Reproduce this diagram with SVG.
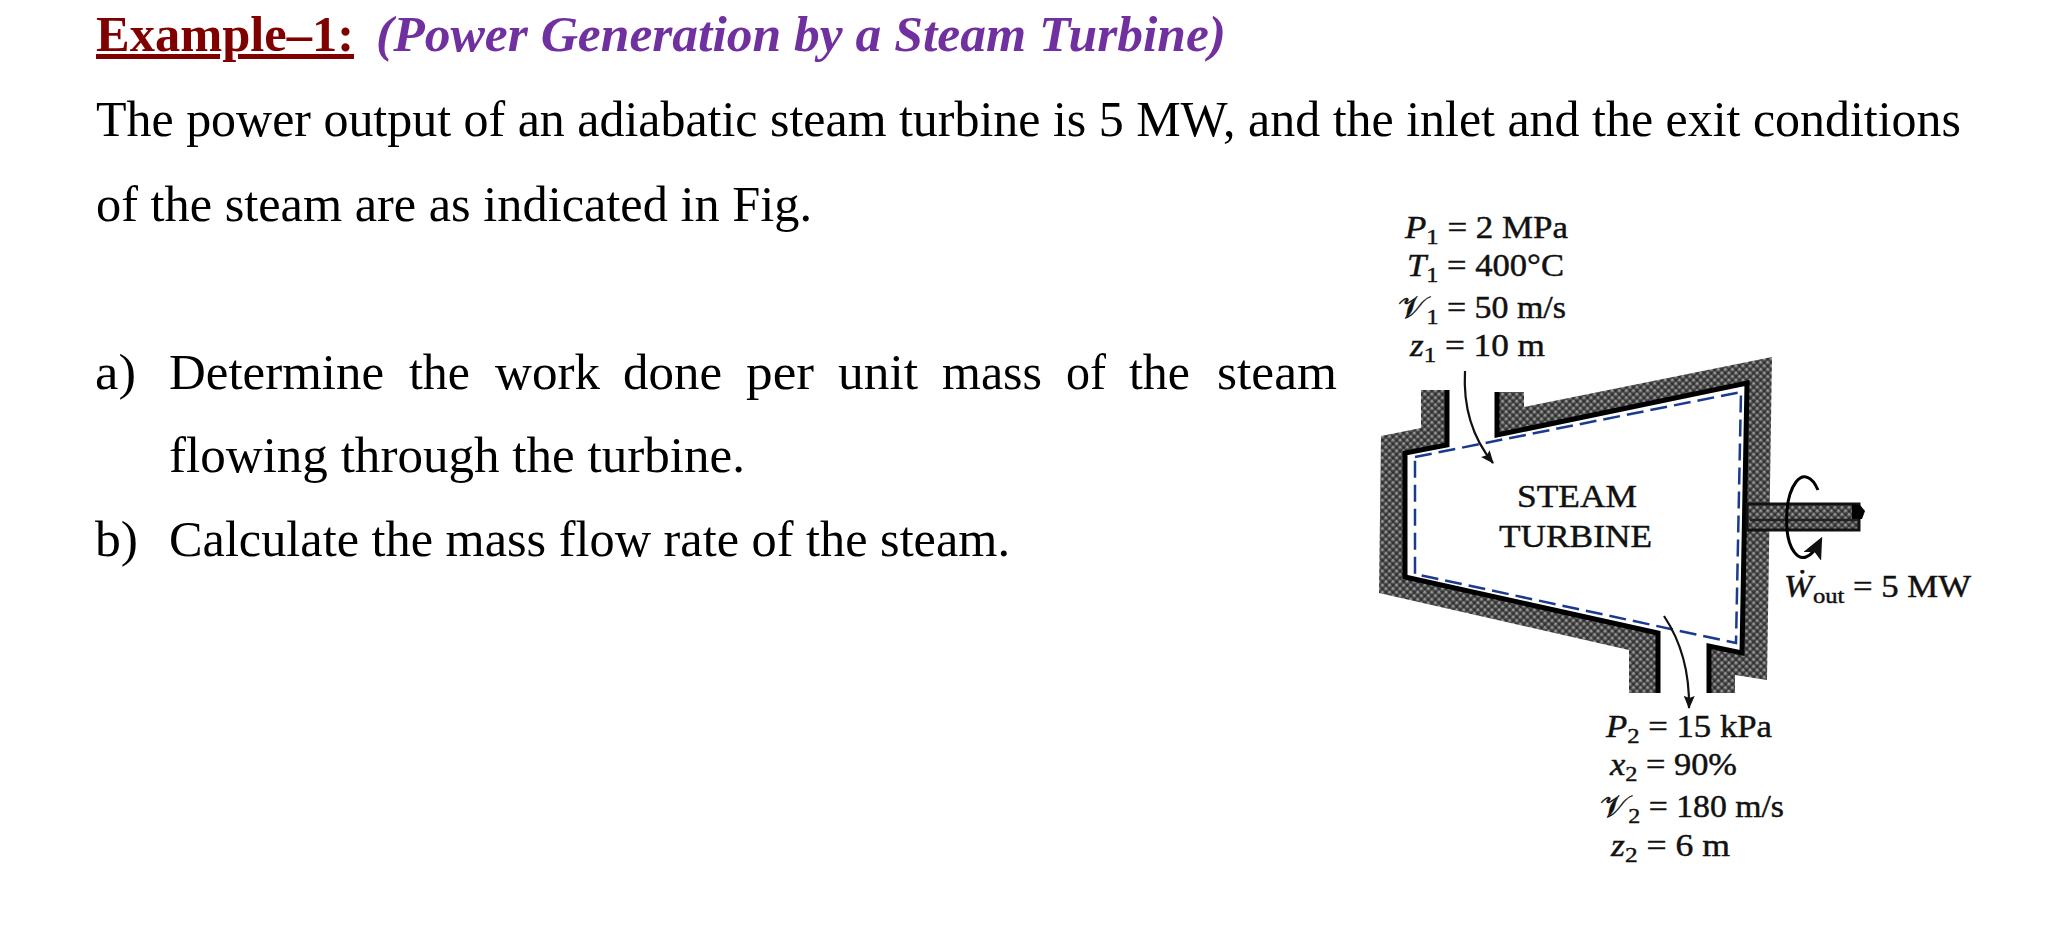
<svg xmlns="http://www.w3.org/2000/svg" width="2066" height="947" viewBox="0 0 2066 947">
<style>
text{font-family:"Liberation Serif","Times New Roman",serif;fill:#000}
.b{font-size:50px}
.t{font-size:50px;font-weight:700}
.l{font-size:31px;fill:#111;stroke:#111;stroke-width:.45px}
.i{font-style:italic}
.s{font-size:22px}
.wall{fill:url(#hatch)}
.edge{fill:none;stroke:#000;stroke-width:5}
.flow{fill:none;stroke:#111;stroke-width:2.2;marker-end:url(#head)}
</style>
<defs>
<pattern id="hatch" width="5" height="5" patternUnits="userSpaceOnUse" patternTransform="rotate(45)">
<rect width="5" height="5" fill="#4c4c4c"/>
<rect width="2.5" height="2.5" fill="#999"/>
<rect x="2.5" y="2.5" width="2.5" height="2.5" fill="#2e2e2e"/>
</pattern>
<marker id="head" viewBox="0 0 12 10" refX="11" refY="5" markerWidth="14" markerHeight="11" markerUnits="userSpaceOnUse" orient="auto"><path d="M0 0L12 5L0 10L2 5Z" fill="#111"/></marker>
<marker id="head2" viewBox="0 0 18 16" refX="14" refY="8" markerWidth="22" markerHeight="20" markerUnits="userSpaceOnUse" orient="auto"><path d="M0 0L18 8L0 16L4 8Z" fill="#111"/></marker>
</defs>
<rect width="2066" height="947" fill="#fff"/>
<g id="title">
<text class="t" x="96" y="51" style="fill:#800000;text-decoration:underline" textLength="258" lengthAdjust="spacingAndGlyphs">Example–1:</text>
<text class="t i" x="376" y="51" style="fill:#7030a0" textLength="850" lengthAdjust="spacingAndGlyphs">(Power Generation by a Steam Turbine)</text>
</g>
<g id="problem">
<text class="b" x="96" y="136" textLength="1865" lengthAdjust="spacingAndGlyphs">The power output of an adiabatic steam turbine is 5 MW, and the inlet and the exit conditions</text>
<text class="b" x="96" y="221" textLength="716" lengthAdjust="spacingAndGlyphs">of the steam are as indicated in Fig.</text>
<text class="b" x="95" y="389" textLength="41" lengthAdjust="spacingAndGlyphs">a)</text>
<text class="b" x="169" y="389" textLength="215" lengthAdjust="spacingAndGlyphs">Determine</text>
<text class="b" x="409" y="389" textLength="61" lengthAdjust="spacingAndGlyphs">the</text>
<text class="b" x="495" y="389" textLength="105" lengthAdjust="spacingAndGlyphs">work</text>
<text class="b" x="623" y="389" textLength="99" lengthAdjust="spacingAndGlyphs">done</text>
<text class="b" x="746" y="389" textLength="68" lengthAdjust="spacingAndGlyphs">per</text>
<text class="b" x="838" y="389" textLength="80" lengthAdjust="spacingAndGlyphs">unit</text>
<text class="b" x="942" y="389" textLength="100" lengthAdjust="spacingAndGlyphs">mass</text>
<text class="b" x="1066" y="389" textLength="40" lengthAdjust="spacingAndGlyphs">of</text>
<text class="b" x="1129" y="389" textLength="61" lengthAdjust="spacingAndGlyphs">the</text>
<text class="b" x="1217" y="389" textLength="120" lengthAdjust="spacingAndGlyphs">steam</text>
<text class="b" x="169" y="472" textLength="576" lengthAdjust="spacingAndGlyphs">flowing through the turbine.</text>
<text class="b" x="95" y="556" textLength="43" lengthAdjust="spacingAndGlyphs">b)</text>
<text class="b" x="169" y="556" textLength="841" lengthAdjust="spacingAndGlyphs">Calculate the mass flow rate of the steam.</text>
</g>
<g id="turbine">
<path class="wall" d="M1421 390H1447V445L1405 453V577L1658 633V693H1629V650L1379 593L1381 436L1421 428Z"/>
<path class="wall" d="M1497 392H1524V407L1772 357L1767 680L1735 675V693H1709V646L1742 653L1747 383L1497 435Z"/>
<path class="edge" d="M1447 390V445L1405 453V577L1658 633V693"/>
<path class="edge" d="M1497 392V435L1747 383L1742 653L1709 646V693"/>
<path d="M1415 457L1741 392L1736 643L1415 574Z" fill="none" stroke="#1a3a8f" stroke-width="2.5" stroke-dasharray="17 7"/>
</g>
<g id="shaft">
<rect x="1747" y="504" width="112" height="26" fill="url(#hatch)" stroke="#111" stroke-width="3"/>
<path d="M1852 504L1860 505L1865 511L1862 519L1852 519Z" fill="#000"/>
<path d="M1750 520H1858" fill="none" stroke="#222" stroke-width="2.5"/>
</g>
<g id="connectors">
<path class="flow" d="M1465 371Q1462 425 1493 463"/>
<path class="flow" d="M1664 616Q1690 655 1689 708"/>
<path d="M1818 490C1812 476 1803 473 1796 482C1787 494 1786 515 1787 530C1789 550 1798 560 1806 557C1812 555 1816 549 1820 541" fill="none" stroke="#000" stroke-width="3" marker-end="url(#head2)"/>
</g>
<g id="labels">
<text class="l" x="1405" y="238" textLength="163" lengthAdjust="spacingAndGlyphs"><tspan class="i">P</tspan><tspan class="s" dy="6">1</tspan><tspan dy="-6"> = 2 MPa</tspan></text>
<text class="l" x="1407" y="276" textLength="157" lengthAdjust="spacingAndGlyphs"><tspan class="i">T</tspan><tspan class="s" dy="6">1</tspan><tspan dy="-6"> = 400°C</tspan></text>
<text class="l" x="1398" y="318" textLength="168" lengthAdjust="spacingAndGlyphs"><tspan>𝒱</tspan><tspan class="s" dy="6">1</tspan><tspan dy="-6"> = 50 m/s</tspan></text>
<text class="l" x="1410" y="356" textLength="135" lengthAdjust="spacingAndGlyphs"><tspan class="i">z</tspan><tspan class="s" dy="6">1</tspan><tspan dy="-6"> = 10 m</tspan></text>
<text class="l" x="1517" y="507" textLength="120" lengthAdjust="spacingAndGlyphs">STEAM</text>
<text class="l" x="1499" y="547" textLength="153" lengthAdjust="spacingAndGlyphs">TURBINE</text>
<text class="l" x="1784" y="597" textLength="187" lengthAdjust="spacingAndGlyphs"><tspan class="i">Ẇ</tspan><tspan class="s" dy="6">out</tspan><tspan dy="-6"> = 5 MW</tspan></text>
<text class="l" x="1606" y="737" textLength="166" lengthAdjust="spacingAndGlyphs"><tspan class="i">P</tspan><tspan class="s" dy="6">2</tspan><tspan dy="-6"> = 15 kPa</tspan></text>
<text class="l" x="1610" y="775" textLength="127" lengthAdjust="spacingAndGlyphs"><tspan class="i">x</tspan><tspan class="s" dy="6">2</tspan><tspan dy="-6"> = 90%</tspan></text>
<text class="l" x="1600" y="817" textLength="184" lengthAdjust="spacingAndGlyphs"><tspan>𝒱</tspan><tspan class="s" dy="6">2</tspan><tspan dy="-6"> = 180 m/s</tspan></text>
<text class="l" x="1611" y="856" textLength="119" lengthAdjust="spacingAndGlyphs"><tspan class="i">z</tspan><tspan class="s" dy="6">2</tspan><tspan dy="-6"> = 6 m</tspan></text>
</g>
</svg>
